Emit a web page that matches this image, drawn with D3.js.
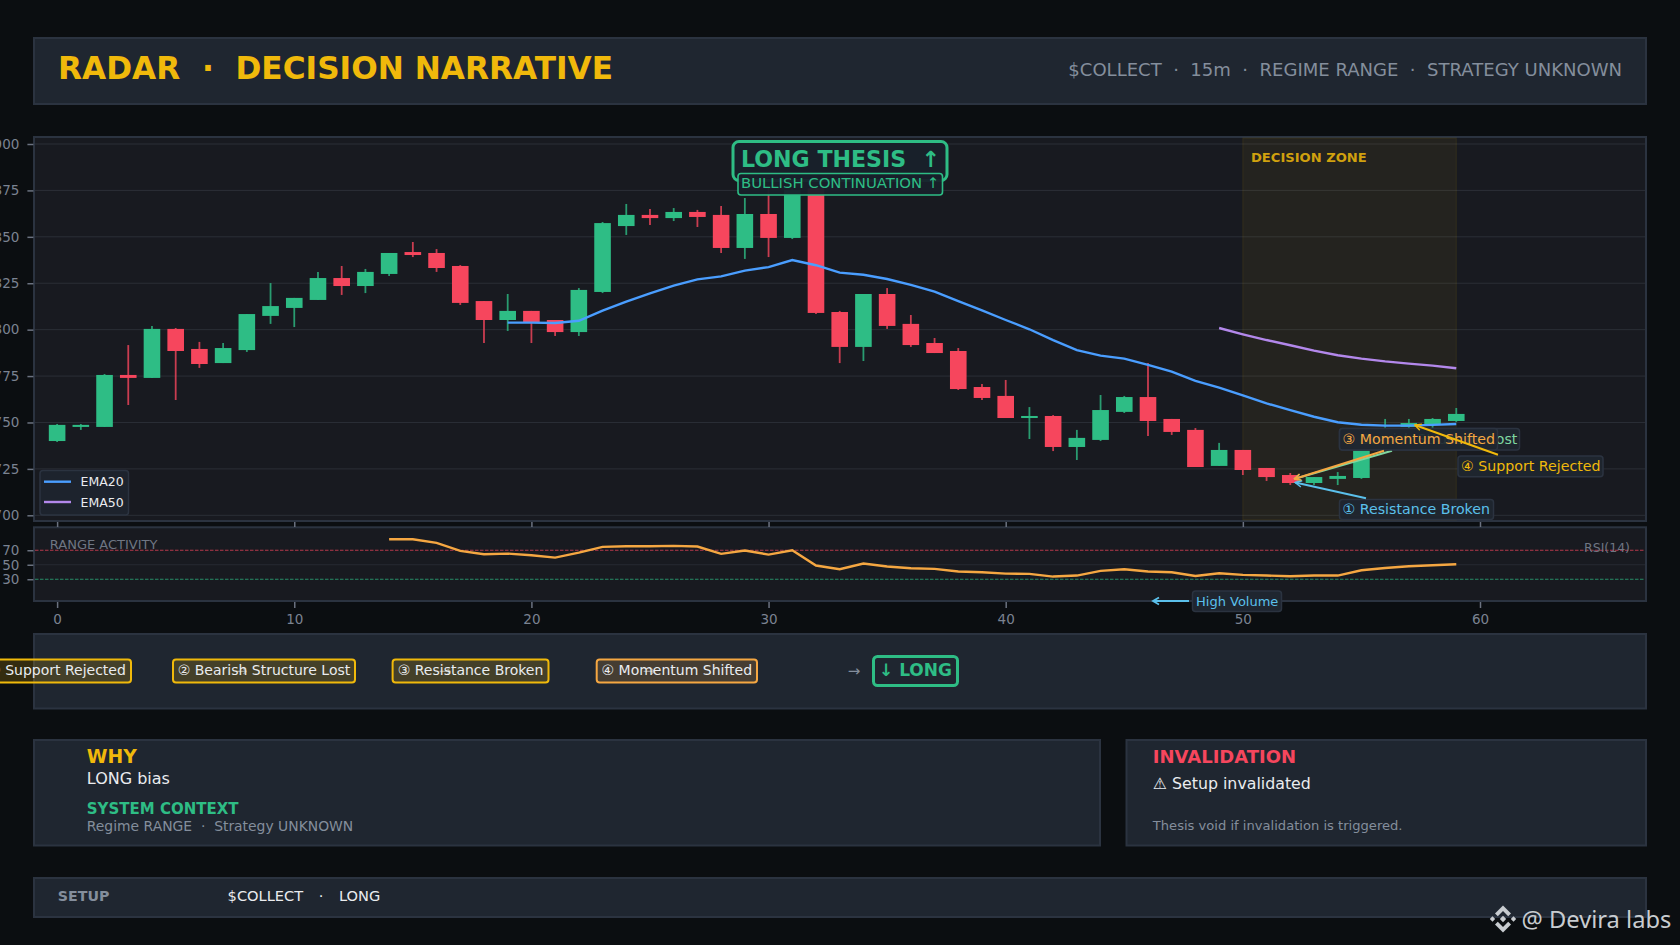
<!DOCTYPE html>
<html>
<head>
<meta charset="utf-8">
<title>Radar decision narrative</title>
<script src="https://cdn.jsdelivr.net/npm/d3@7/dist/d3.min.js"></script>
<style>
  html, body { margin: 0; padding: 0; background: #0b0e11; overflow: hidden; }
  svg { display: block; }
  text { font-family: "DejaVu Sans", sans-serif; }
</style>
</head>
<body>
<svg id="chart" width="1680" height="945"></svg>

<script>
// values
const opens = [0.7400,0.7476,0.7476,0.7756,0.7740,0.8004,0.7896,0.7820,0.7890,0.8074,0.8117,0.8160,0.8278,0.8235,0.8300,0.8418,0.8413,0.8343,0.8154,0.8052,0.8101,0.8052,0.7987,0.8203,0.8558,0.8618,0.8601,0.8634,0.8618,0.8440,0.8623,0.8494,0.8761,0.8095,0.7907,0.8192,0.8031,0.7928,0.7885,0.7691,0.7643,0.7524,0.7535,0.7368,0.7406,0.7557,0.7637,0.7519,0.7460,0.7266,0.7352,0.7255,0.7217,0.7174,0.7196,0.7201,0.7433,0.7476,0.7487,0.7508]
const highs = [0.7492,0.7492,0.7761,0.7917,0.8020,0.8009,0.7934,0.7928,0.8084,0.8251,0.8171,0.8311,0.8343,0.8327,0.8413,0.8472,0.8434,0.8348,0.8154,0.8192,0.8101,0.8052,0.8224,0.8580,0.8677,0.8650,0.8655,0.8645,0.8666,0.8709,0.8770,0.8756,0.8765,0.8101,0.8192,0.8224,0.8079,0.7955,0.7901,0.7707,0.7729,0.7583,0.7540,0.7460,0.7648,0.7643,0.7820,0.7519,0.7470,0.7390,0.7352,0.7255,0.7228,0.7206,0.7233,0.7438,0.7519,0.7519,0.7524,0.7578]
const lows = [0.7395,0.7460,0.7476,0.7594,0.7740,0.7621,0.7794,0.7820,0.7880,0.8031,0.8014,0.8160,0.8187,0.8197,0.8289,0.8391,0.8311,0.8133,0.7928,0.7993,0.7928,0.7966,0.7966,0.8197,0.8510,0.8564,0.8585,0.8553,0.8413,0.8381,0.8391,0.8488,0.8084,0.7820,0.7831,0.8004,0.7907,0.7874,0.7675,0.7621,0.7524,0.7411,0.7346,0.7298,0.7400,0.7551,0.7427,0.7433,0.7260,0.7266,0.7217,0.7185,0.7163,0.7163,0.7163,0.7196,0.7424,0.7465,0.7470,0.7503]
const closes = [0.7487,0.7487,0.7756,0.7740,0.8004,0.7885,0.7815,0.7901,0.8084,0.8127,0.8171,0.8278,0.8235,0.8311,0.8413,0.8402,0.8332,0.8144,0.8052,0.8101,0.8036,0.7987,0.8214,0.8574,0.8618,0.8601,0.8634,0.8607,0.8440,0.8623,0.8494,0.8752,0.8090,0.7907,0.8192,0.8020,0.7917,0.7874,0.7680,0.7632,0.7524,0.7535,0.7368,0.7417,0.7567,0.7637,0.7508,0.7449,0.7260,0.7352,0.7244,0.7206,0.7174,0.7206,0.7212,0.7433,0.7465,0.7497,0.7519,0.7546]

const ema20 = [0.8038,0.8038,0.8036,0.8048,0.8102,0.8151,0.8196,0.8237,0.8271,0.8287,0.8318,0.8337,0.8375,0.8347,0.8307,0.8296,0.8273,0.8241,0.8205,0.8154,0.8104,0.8052,0.8002,0.7944,0.7890,0.7860,0.7844,0.7810,0.7774,0.7724,0.7688,0.7646,0.7603,0.7567,0.7531,0.7501,0.7488,0.7483,0.7483,0.7487,0.7492]
const ema50 = [0.8009,0.7975,0.7944,0.7916,0.7887,0.7862,0.7844,0.7829,0.7817,0.7806,0.7792]
const rsi = [85.2,85.2,80.1,69.1,64.5,65.4,63.1,59.9,66.8,74.6,75.5,75.5,76.0,75.1,65.0,69.6,64.0,70.0,48.9,43.8,51.6,47.5,45.2,44.3,40.6,39.7,37.8,37.4,33.7,35.1,41.5,43.8,40.6,39.7,34.6,38.3,36.0,35.1,34.1,35.1,35.1,42.4,45.6,47.9,49.3,50.7]

const ema20Start = 19
const ema50Start = 49
const rsiStart = 14

const priceTicks = [0.700,0.725,0.750,0.775,0.800,0.825,0.850,0.875,0.900]
const rsiTicks = [30,50,70]
const indexTicks = [0,10,20,30,40,50,60]
const zoneRange = [50,59]

const steps = ["① Support Rejected","② Bearish Structure Lost","③ Resistance Broken","④ Momentum Shifted"]
const notes = ["① Resistance Broken","② Bearish Structure Lost","③ Momentum Shifted","④ Support Rejected"]

const GREEN = "#2ebd85", RED = "#f6465d", GOLD = "#f0b90b", ORANGE = "#f5a742", SKY = "#5bc0eb"
const BLUE = "#4a9eff", PURPLE = "#b388eb", GRAY = "#848e9c", WHITE = "#eaecef"
const CARD = "#1f2630", EDGE = "#2b3340", PANEL = "#181a20"

const svg = d3.select("#chart")

// x scale is shared by both panels, xlim -1..67
const x = d3.scaleLinear().domain([-1,67]).range([33.4,1646])
const y = d3.scaleLinear().domain([0.7,0.9]).range([515.3,144])
const yRsi = d3.scaleLinear().domain([0,100]).range([601,528.5])

function card(x0, y0, x1, y1, fill) {
  svg.append("rect").attr("x",x0).attr("y",y0).attr("width",x1-x0).attr("height",y1-y0)
    .attr("fill",fill||CARD).attr("stroke",EDGE).attr("stroke-width",2)
}
function label(px, py, str, size, color, opts) {
  opts = opts || {}
  return (opts.parent||svg).append("text").attr("x",px).attr("y",py)
    .attr("dy","0.36em")
    .attr("font-size",size).attr("fill",color)
    .attr("font-weight",opts.bold?"bold":"normal")
    .attr("text-anchor",opts.anchor||"start")
    .attr("xml:space","preserve")
    .style("font-family",opts.font||null)
    .style("white-space","pre")
    .text(str)
}

// header
card(34,38,1646,104)
label(58,68,"RADAR  ·  DECISION NARRATIVE",31.2,GOLD,{bold:true})
label(1622,70,"$COLLECT  ·  15m  ·  REGIME RANGE  ·  STRATEGY UNKNOWN",18.05,GRAY,{anchor:"end"})

// price panel
card(34,137,1646,521,PANEL)
card(34,527.3,1646,601,PANEL)

svg.append("g").selectAll("line").data(priceTicks).join("line")
  .attr("x1",35).attr("x2",1645).attr("y1",d=>y(d)).attr("y2",d=>y(d))
  .attr("stroke","#2b2f36").attr("stroke-width",1)

function styleAxis(g) {
  g.select(".domain").remove()
  g.selectAll("line").attr("stroke","#6b7280").attr("stroke-width",1.5)
  g.selectAll("text").attr("fill","#7b8391").attr("font-size",13.5)
    .style("font-family","DejaVu Sans")
}

svg.append("g").attr("transform","translate(33.4,0)")
  .call(d3.axisLeft(y).tickValues(priceTicks).tickFormat(d3.format(".3f")).tickSize(6).tickPadding(8))
  .call(styleAxis)
svg.append("g").attr("transform","translate(0,522)")
  .call(d3.axisBottom(x).tickValues(indexTicks).tickFormat("").tickSize(5))
  .call(styleAxis)

// decision zone
svg.append("rect").attr("x",x(zoneRange[0])).attr("y",138)
  .attr("width",x(zoneRange[1])-x(zoneRange[0])).attr("height",382)
  .attr("fill",GOLD).attr("fill-opacity",0.06)
  .attr("stroke",GOLD).attr("stroke-opacity",0.1)

// candles
const candles = svg.append("g").selectAll("g").data(d3.range(opens.length)).join("g")
candles.append("line")
  .attr("x1",i=>x(i)).attr("x2",i=>x(i)).attr("y1",i=>y(highs[i])).attr("y2",i=>y(lows[i]))
  .attr("stroke",i=>closes[i]>=opens[i]?GREEN:RED).attr("stroke-width",1.8).attr("stroke-opacity",0.8)
candles.append("rect")
  .attr("x",i=>x(i)-8.3).attr("width",16.6)
  .attr("y",i=>y(Math.max(opens[i],closes[i])))
  .attr("height",i=>Math.max(1,Math.abs(y(opens[i])-y(closes[i]))))
  .attr("fill",i=>closes[i]>=opens[i]?GREEN:RED)

// moving averages
const line = d3.line().x(d=>x(d[0])).y(d=>y(d[1]))
svg.append("path").attr("d",line(ema20.map((v,i)=>[i+ema20Start,v])))
  .attr("fill","none").attr("stroke",BLUE).attr("stroke-width",2.4)
svg.append("path").attr("d",line(ema50.map((v,i)=>[i+ema50Start,v])))
  .attr("fill","none").attr("stroke",PURPLE).attr("stroke-width",2.4)

// legend
svg.append("rect").attr("x",40).attr("y",470.5).attr("width",88.5).attr("height",44.5).attr("rx",3)
  .attr("fill",CARD).attr("fill-opacity",0.85).attr("stroke",EDGE).attr("stroke-width",1.5)
;[["EMA20",BLUE,481.7],["EMA50",PURPLE,502]].forEach(d=>{
  svg.append("line").attr("x1",44).attr("x2",71).attr("y1",d[2]).attr("y2",d[2])
    .attr("stroke",d[1]).attr("stroke-width",2.4)
  label(80.5,d[2],d[0],12.5,WHITE)
})

label(1251,157.3,"DECISION ZONE",13.1,GOLD,{bold:true}).attr("fill-opacity",0.85)

// thesis badge
svg.append("rect").attr("x",733).attr("y",141.5).attr("width",214).attr("height",39).attr("rx",6)
  .attr("fill","#18202a").attr("stroke",GREEN).attr("stroke-width",3)
label(741,159.5,"LONG THESIS  ↑",22.1,GREEN,{bold:true})
svg.append("rect").attr("x",738).attr("y",173.5).attr("width",204.5).attr("height",21.5).attr("rx",3)
  .attr("fill","#18202a").attr("fill-opacity",0.95).attr("stroke",GREEN).attr("stroke-width",1.6)
label(741,182.8,"BULLISH CONTINUATION ↑",14.85,GREEN)

// rsi panel
svg.append("line").attr("x1",35).attr("x2",1645).attr("y1",yRsi(50)).attr("y2",yRsi(50))
  .attr("stroke","#2b2f36").attr("stroke-width",0.8)
svg.append("line").attr("x1",35).attr("x2",1645).attr("y1",yRsi(70)).attr("y2",yRsi(70))
  .attr("stroke",RED).attr("stroke-opacity",0.7).attr("stroke-width",1.2).attr("stroke-dasharray","3.5 1.5")
svg.append("line").attr("x1",35).attr("x2",1645).attr("y1",yRsi(30)).attr("y2",yRsi(30))
  .attr("stroke",GREEN).attr("stroke-opacity",0.7).attr("stroke-width",1.2).attr("stroke-dasharray","3.5 1.5")
svg.append("path")
  .attr("d",d3.line().x((v,i)=>x(i+rsiStart)).y(v=>yRsi(v))(rsi))
  .attr("fill","none").attr("stroke",ORANGE).attr("stroke-width",2.4)

svg.append("g").attr("transform","translate(33.4,0)")
  .call(d3.axisLeft(yRsi).tickValues(rsiTicks).tickSize(6).tickPadding(8))
  .call(styleAxis)
svg.append("g").attr("transform","translate(0,602)")
  .call(d3.axisBottom(x).tickValues(indexTicks).tickSize(6).tickPadding(6))
  .call(styleAxis)
label(49.8,544.3,"RANGE ACTIVITY",13,"#6f7683")
label(1630,547.3,"RSI(14)",12.5,"#6f7683",{anchor:"end"})

// annotations, in draw order so later ones sit on top
svg.append("defs").selectAll("marker").data([SKY,"#7fd6a0",ORANGE,GOLD]).join("marker")
  .attr("id",(d,i)=>"head"+i).attr("viewBox","0 0 10 10").attr("refX",9).attr("refY",5)
  .attr("markerWidth",8).attr("markerHeight",8).attr("markerUnits","userSpaceOnUse").attr("orient","auto")
  .append("path").attr("d","M1,1 L9,5 L1,9").attr("fill","none").attr("stroke",d=>d).attr("stroke-width",1.8)

function note(str, color, headId, anchorIdx, tipOffset, boxX, boxY, boxW, boxH, tail, textSize) {
  const tipX = x(anchorIdx)+tipOffset[0]
  const tipY = y((opens[anchorIdx]+closes[anchorIdx])/2)+tipOffset[1]
  svg.append("rect").attr("x",boxX).attr("y",boxY).attr("width",boxW).attr("height",boxH).attr("rx",3)
    .attr("fill",CARD).attr("fill-opacity",0.92).attr("stroke",EDGE).attr("stroke-width",1.5)
  label(boxX+3,boxY+boxH/2-0.5,str,textSize,color)
  svg.append("line").attr("x1",tail[0]).attr("y1",tail[1]).attr("x2",tipX).attr("y2",tipY)
    .attr("stroke",color).attr("stroke-width",2).attr("marker-end",`url(#head${headId})`)
}
note(notes[0],SKY,0,52,[5,3.5],1339.5,499.5,154,20,[1366,498.3],14.2)
note(notes[1],"#7fd6a0",1,52,[4,0],1339.5,428.5,180,21.5,[1392,450.7],14.2)
note(notes[2],ORANGE,2,52,[4,0],1339.5,428.5,158,21.5,[1384,450.7],14.2)
note(notes[3],GOLD,3,57,[6,0],1458,456,145,20.7,[1498,454.7],14.2)

// high volume callout on the rsi floor
svg.append("rect").attr("x",1192.5).attr("y",591).attr("width",89).attr("height",20.5).attr("rx",3)
  .attr("fill",CARD).attr("stroke",EDGE).attr("stroke-width",1.5)
label(1196,601,"High Volume",13,SKY)
svg.append("line").attr("x1",1189).attr("x2",x(46)+5).attr("y1",yRsi(0)).attr("y2",yRsi(0))
  .attr("stroke",SKY).attr("stroke-width",1.8)
svg.append("path").attr("d",`M${x(46)+11},${yRsi(0)-3.5} L${x(46)+5},${yRsi(0)} L${x(46)+11},${yRsi(0)+3.5}`)
  .attr("fill","none").attr("stroke",SKY).attr("stroke-width",1.8)

// reasoning steps
card(34,634,1646,708.5)
const chipLeft = [-17,173,392.6,596.7]
const chipRight = [131,355,548.5,757]
const arrowX = [241,445,649,854]
arrowX.forEach(a=>label(a,670.5,"→",15,GRAY,{anchor:"middle"}))
steps.forEach((s,i)=>{
  const c = i===3?ORANGE:GOLD
  svg.append("rect").attr("x",chipLeft[i]).attr("y",659.5).attr("width",chipRight[i]-chipLeft[i]).attr("height",23).attr("rx",3)
    .attr("fill",c).attr("fill-opacity",0.18).attr("stroke",c).attr("stroke-width",2)
  label((chipLeft[i]+chipRight[i])/2,669.5,s,14,WHITE,{anchor:"middle"})
})
svg.append("rect").attr("x",873.5).attr("y",656.5).attr("width",84).attr("height",29).attr("rx",4)
  .attr("fill",CARD).attr("stroke",GREEN).attr("stroke-width",3)
label(915.5,670,"↓ LONG",17,GREEN,{bold:true,anchor:"middle"})

// why / invalidation
card(34,740,1100,845.5)
label(86.8,756.7,"WHY",18.8,GOLD,{bold:true})
label(86.8,778.7,"LONG bias",16,WHITE)
label(86.8,808.8,"SYSTEM CONTEXT",15,GREEN,{bold:true})
label(86.8,825.7,"Regime RANGE  ·  Strategy UNKNOWN",13.9,GRAY)

card(1126.5,740,1646,845.5)
label(1152.8,756.7,"INVALIDATION",18,RED,{bold:true})
label(1152.8,783.3,"⚠ Setup invalidated",15.8,WHITE)
label(1152.8,825.7,"Thesis void if invalidation is triggered.",13.1,GRAY)

// setup strip
card(34,878,1646,917)
label(57.8,896,"SETUP",14.2,GRAY,{bold:true})
label(227.6,896,"$COLLECT   ·   LONG",14.6,WHITE).style("word-spacing","0.55px")

// watermark
const mark = svg.append("g").attr("transform","translate(1503,919)").attr("fill","#c8ccd0")
mark.append("path").attr("d","M0,-13.5 L8,-5.5 L5.2,-2.8 L0,-8 L-5.2,-2.8 L-8,-5.5 Z")
mark.append("path").attr("d","M0,13.5 L8,5.5 L5.2,2.8 L0,8 L-5.2,2.8 L-8,5.5 Z")
mark.append("path").attr("d","M0,-3.2 L3.2,0 L0,3.2 L-3.2,0 Z")
mark.append("path").attr("d","M-10.5,-2.7 L-7.8,0 L-10.5,2.7 L-13.2,0 Z")
mark.append("path").attr("d","M10.5,-2.7 L13.2,0 L10.5,2.7 L7.8,0 Z")
label(1521.5,919,"@ Devira labs",23.7,"#c8ccd0",{font:"Noto Sans"})
</script>
</body>
</html>
